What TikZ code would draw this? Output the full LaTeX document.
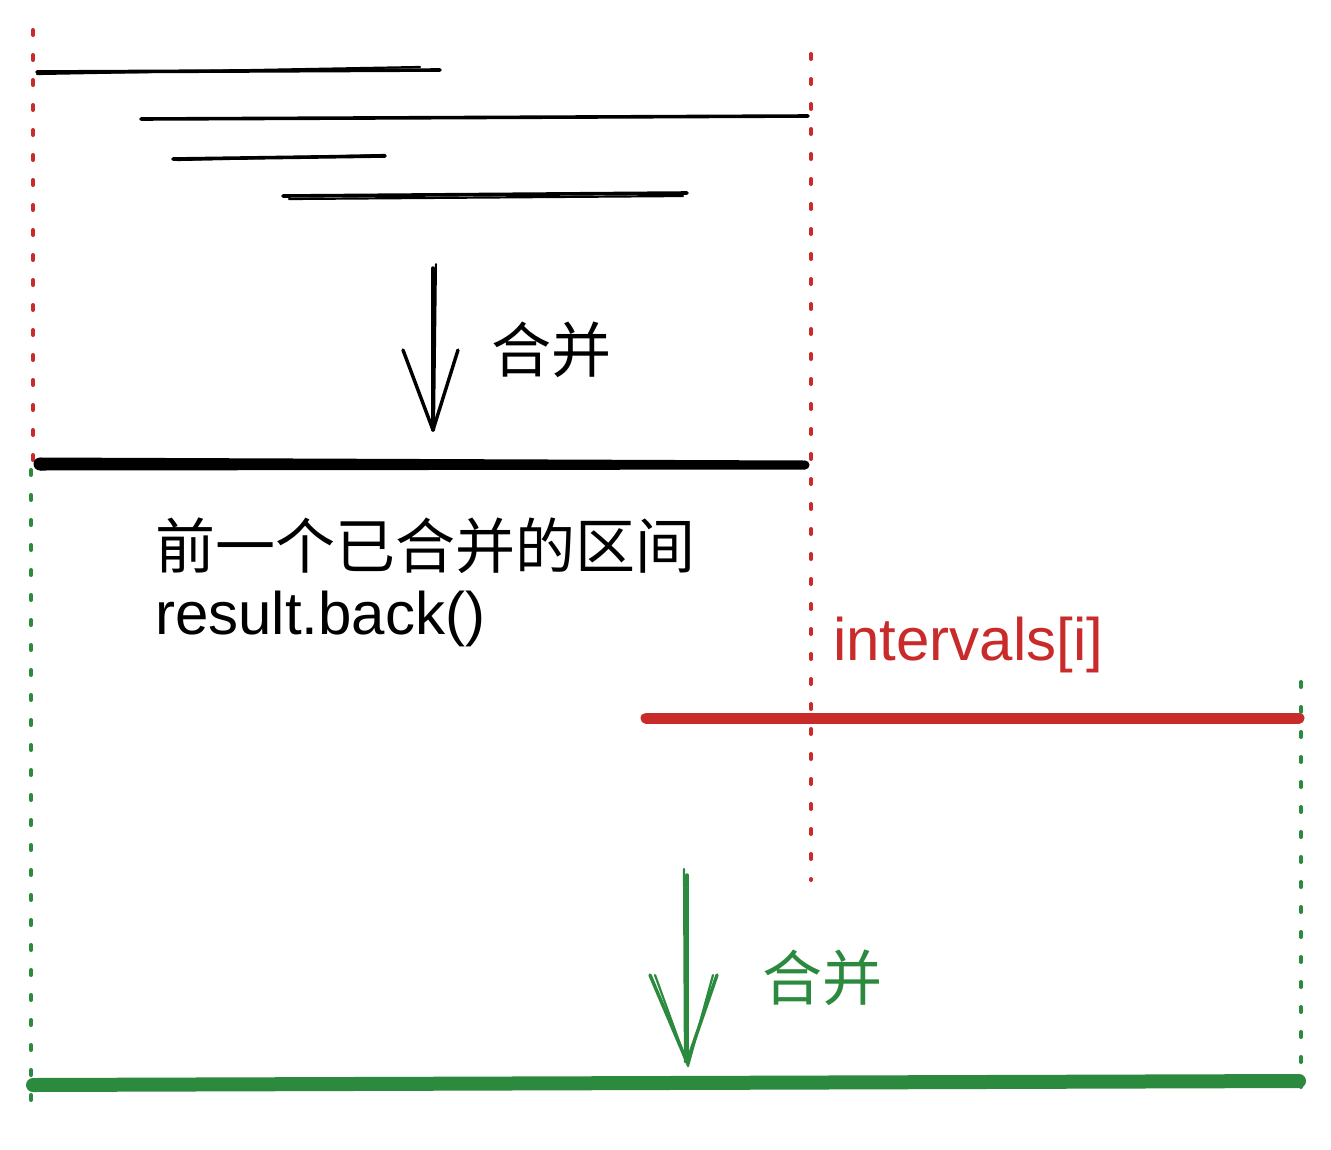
\documentclass[tikz,border=0pt]{standalone}
\usepackage{fontspec}
\setmainfont{Liberation Sans}
\newfontfamily\cjk{Noto Sans CJK SC}
\definecolor{exred}{HTML}{C92A2A}
\definecolor{exgreen}{HTML}{2B8A3E}
\begin{document}
\begin{tikzpicture}[x=1pt,y=-1pt,
  dotline/.style={line width=4pt,line cap=round,dash pattern=on 5pt off 20pt},
  thin/.style={line width=3.6pt,line cap=round,black},
  fat/.style={line width=12pt,line cap=round},
  arr/.style={line width=3.4pt,line cap=round,line join=round},
  lbl/.style={inner sep=0pt,font=\fontsize{60}{66}\selectfont},
  cjklbl/.style={inner sep=0pt,font=\fontsize{60}{66}\selectfont\cjk}]
\useasboundingbox (0,0) rectangle (1331,1149);
\fill[white] (0,0) rectangle (1331,1149);
% coordinates
\coordinate (rl1) at (33,30); \coordinate (rl2) at (33,460);
\coordinate (gl1) at (31,470); \coordinate (gl2) at (31,1105);
\coordinate (rr1) at (811,54); \coordinate (rr2) at (811,880);
\coordinate (gr1) at (1301,682); \coordinate (gr2) at (1301,1100);
% dotted guides
\draw[dotline,exred] (rl1) -- (rl2);
\draw[dotline,exgreen] (gl1) -- (gl2);
\draw[dotline,exred] (rr1) -- (rr2);
\draw[dotline,exgreen] (gr1) -- (gr2);
% thin input intervals
\coordinate (a1) at (37,72); \coordinate (a2) at (440,70);
\coordinate (b1) at (141,119); \coordinate (b2) at (808,116);
\coordinate (c1) at (173,159); \coordinate (c2) at (385,156);
\coordinate (d1) at (283,196); \coordinate (d2) at (687,193);
\draw[thin] (a1) -- (a2);
\draw[thin,line width=2.2pt] ([yshift=-2pt]a1) -- ([xshift=-20pt,yshift=3pt]a2);
\draw[thin] (b1) -- (b2);
\draw[thin] (c1) -- (c2);
\draw[thin,line width=2.2pt] ([xshift=4pt,yshift=-1pt]c1) -- ([yshift=1pt]c2);
\draw[thin] (d1) -- (d2);
\draw[thin,line width=2.2pt] ([xshift=6pt,yshift=-3pt]d1) -- ([xshift=-4pt,yshift=-3pt]d2);
% black arrow
\coordinate (ka) at (433,268); \coordinate (kb) at (433,430);
\coordinate (kl) at (403,350); \coordinate (kr) at (458,350);
\draw[arr] (ka) -- (kb);
\draw[arr,line width=2pt] ([xshift=3pt,yshift=4pt]ka) -- ([xshift=1pt]kb);
\draw[arr] (kl) -- (kb) -- (kr);
\node[cjklbl] (m1) at (551,350) {合并};
% merged previous interval (tapered stroke)
\coordinate (p1) at (40,464); \coordinate (p2) at (805,465);
\fill[black] ([shift={(0,-6.5)}]p1) -- ([shift={(0,-4.5)}]p2) -- ([shift={(0,4.5)}]p2) -- ([shift={(0,6.5)}]p1) -- cycle;
\fill[black] (p1) circle[radius=6.5pt];
\fill[black] (p2) circle[radius=4.5pt];
\node[cjklbl,anchor=west] (t1) at (155,546) {前一个已合并的区间};
\node[lbl,anchor=west] (t2) at (155,619) {result.back()};
% current interval
\node[lbl,anchor=west,text=exred] (t3) at (833,645) {intervals[i]};
\coordinate (q1) at (646,718); \coordinate (q2) at (1299,718);
\draw[fat,exred,line width=11pt] (q1) -- (q2);
% green arrow
\coordinate (ga) at (687,875); \coordinate (gb) at (687,1062);
\coordinate (gL) at (650,975); \coordinate (gR) at (717,975);
\draw[arr,exgreen] (ga) -- (gb);
\draw[arr,exgreen,line width=2.2pt] ([xshift=-3pt,yshift=6pt]ga) -- ([xshift=-2pt]gb);
\draw[arr,exgreen] (gL) -- (gb) -- (gR);
\draw[arr,exgreen,line width=2.2pt] ([xshift=5pt]gL) -- ([xshift=1pt,yshift=-4pt]gb) -- ([xshift=-4pt]gR);
\node[cjklbl,text=exgreen] (m2) at (822,978) {合并};
% merged result
\coordinate (r1) at (33,1085); \coordinate (r2) at (1299,1081);
\draw[fat,exgreen,line width=14pt] (r1) -- (r2);
\end{tikzpicture}
\end{document}
